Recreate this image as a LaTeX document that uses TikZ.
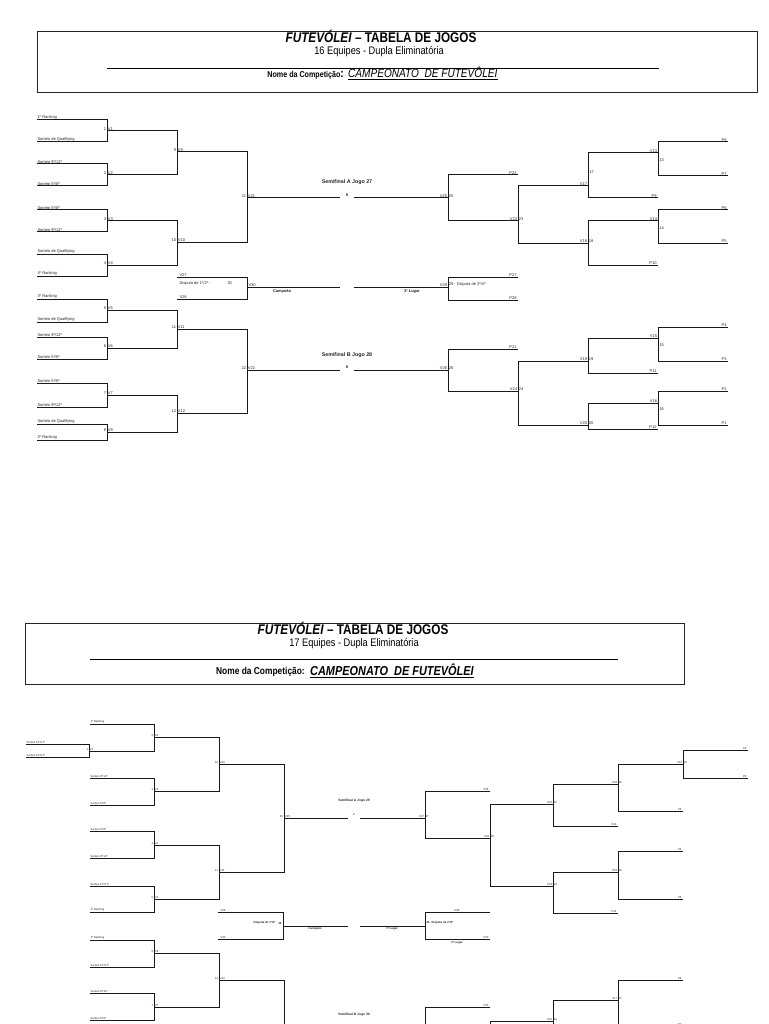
\documentclass[tikz,border=0pt]{standalone}
\usepackage{fontspec}
\setmainfont{Liberation Sans}
\newfontfamily\nar[FakeStretch=0.84]{Liberation Sans}
\newcommand\brkt[4]{\draw[br] (#1,#3) -- (#2,#3) -- (#2,#4) -- (#1,#4);}
\newcommand\teamlab[3]{\node[lb,anchor=south west] at (#1,#2-0.2) {#3};}
\newcommand\numlab[4]{\node[lb,anchor=south east] at (#1-0.4,#2-0.2) {#3};\node[lb,anchor=south west] at (#1+0.4,#2-0.2) {#4};}
\newcommand\plab[3]{\node[lb,anchor=south east] at (#1-1,#2-0.2) {#3};}
\begin{document}
\begin{tikzpicture}[x=1pt,y=-1pt,
  br/.style={line width=1pt,draw=black!90},
  bx/.style={line width=0.9pt,draw=black!85},
  lb/.style={font=\fontsize{4}{4}\selectfont,inner sep=0.3pt,text=black!85},
  lbb/.style={font=\bfseries\fontsize{4}{4}\selectfont,inner sep=0.3pt,text=black!85},
  semi/.style={font=\bfseries\fontsize{5.3}{5.3}\selectfont,inner sep=0.3pt,text=black!85},
  ttl/.style={font=\nar\bfseries\fontsize{14}{14}\selectfont,inner sep=0pt},
  sub/.style={font=\nar\fontsize{11}{11}\selectfont,inner sep=0pt}]
\useasboundingbox (0,0) rectangle (768,1024);
\fill[white] (0,0) rectangle (768,1024);
\clip (0,0) rectangle (768,1024);

% ================= TOP: 16 equipes =================
\draw[bx] (37,31) rectangle (757,92);
\node[ttl,anchor=base] (t1) at (381,43) {\textit{FUTEVÓLEI} – TABELA DE JOGOS};
\node[sub,anchor=base] (s1) at (379,55) {16 Equipes - Dupla Eliminatória};
\draw[line width=0.8pt] (107,68) -- (659,68);
\node[font=\nar\bfseries\fontsize{8.5}{8.5}\selectfont,inner sep=0pt,anchor=base east] (n1) at (344,77.5) {Nome da Competição\fontsize{12}{12}\selectfont:};
\node[font=\nar\itshape\fontsize{12}{12}\selectfont,inner sep=0pt,anchor=base west] (c1) at (348,77.5) {CAMPEONATO\ \ DE FUTEVÔLEI};
\draw[line width=1pt] ([yshift=-2pt]c1.base west) -- ([yshift=-2pt]c1.base east);

% round 1
\brkt{37}{107}{120}{142} \teamlab{37}{120}{1º Ranking} \teamlab{37}{142}{Sorteio de Qualifying} \numlab{107}{131}{1}{V1}
\brkt{37}{107}{164}{186} \teamlab{37}{164}{Sorteio 9º/12º} \teamlab{37}{186}{Sorteio 5º/8º} \numlab{107}{175}{2}{V2}
\brkt{37}{107}{210}{232} \teamlab{37}{210}{Sorteio 5º/8º} \teamlab{37}{232}{Sorteio 9º/12º} \numlab{107}{221}{3}{V3}
\brkt{37}{107}{254}{276} \teamlab{37}{254}{Sorteio de Qualifying} \teamlab{37}{276}{4º Ranking} \numlab{107}{265}{4}{V4}
\brkt{37}{107}{299}{322} \teamlab{37}{299}{3º Ranking} \teamlab{37}{322}{Sorteio de Qualifying} \numlab{107}{310}{5}{V5}
\brkt{37}{107}{337}{359} \teamlab{37}{337}{Sorteio 9º/12º} \teamlab{37}{359}{Sorteio 5º/8º} \numlab{107}{348}{6}{V6}
\brkt{37}{107}{383}{407} \teamlab{37}{383}{Sorteio 5º/8º} \teamlab{37}{407}{Sorteio 9º/12º} \numlab{107}{395}{7}{V7}
\brkt{37}{107}{424}{440} \teamlab{37}{424}{Sorteio de Qualifying} \teamlab{37}{440}{2º Ranking} \numlab{107}{432}{8}{V8}
% round 2
\brkt{107}{177}{131}{175} \numlab{177}{152}{9}{V9}
\brkt{107}{177}{221}{265} \numlab{177}{242}{10}{V10}
\brkt{107}{177}{310}{348} \numlab{177}{329}{11}{V11}
\brkt{107}{177}{395}{432} \numlab{177}{413}{12}{V12}
% round 3
\brkt{177}{247}{152}{242} \numlab{247}{198}{21}{V21}
\brkt{177}{247}{329}{413} \numlab{247}{370}{22}{V22}
% semis
\draw[br] (247,198) -- (340,198); \draw[br] (354,198) -- (448,198);
\draw[br] (247,370) -- (340,370); \draw[br] (354,370) -- (448,370);
\node[lbb] at (347,195) {8};
\node[lbb] at (347,367) {8};
\node[semi] at (347,182) {Semifinal A Jogo 27};
\node[semi] at (347,355) {Semifinal B Jogo 28};
% finals
\brkt{177}{247}{277}{299}
\draw[br] (247,287) -- (340,287); \draw[br] (354,287) -- (448,287);
\brkt{518}{448}{277}{300}
\node[lb,anchor=south west] at (179,276.8) {V27};
\node[lb,anchor=west] at (179,283.5) {Disputa de 1º/2º -};
\node[lb,anchor=west] at (227,283.5) {30};
\node[lb,anchor=south west] at (179,298.8) {V28};
\node[lb,anchor=south west] at (248,286.8) {V30};
\node[lbb,anchor=north] at (282,289) {Campeão};
\node[lbb,anchor=north] at (412,289) {3º Lugar};
\node[lb,anchor=south east] at (447.6,286.8) {V29};
\node[lb,anchor=south west] at (448.4,286.8) {29 - Disputa de 3º/4º};
\plab{518}{277}{P27} \plab{518}{300}{P28}
% right upper
\brkt{518}{448}{175}{221} \numlab{448}{198}{V25}{25} \plab{518}{175}{P22}
\brkt{588}{518}{186}{243} \numlab{518}{221}{V23}{23}
\brkt{658}{588}{153}{198} \plab{658}{198}{P9}
\node[lb,anchor=south east] at (587.6,185.8) {V17}; \node[lb,anchor=west] at (589,172) {17};
\brkt{728}{658}{142}{176} \plab{728}{142}{P8} \plab{728}{176}{P7}
\node[lb,anchor=south east] at (657.6,152.8) {V13}; \node[lb,anchor=west] at (659,160) {13};
\brkt{658}{588}{221}{265} \numlab{588}{243}{V18}{18} \plab{658}{265}{P10}
\brkt{728}{658}{210}{243} \plab{728}{210}{P6} \plab{728}{243}{P5}
\node[lb,anchor=south east] at (657.6,220.8) {V14}; \node[lb,anchor=west] at (659,228) {14};
% right lower
\brkt{518}{448}{349}{391} \numlab{448}{370}{V26}{26} \plab{518}{349}{P21}
\brkt{588}{518}{361}{425} \numlab{518}{391}{V24}{24}
\brkt{658}{588}{338}{373} \numlab{588}{361}{V19}{19} \plab{658}{373}{P11}
\brkt{728}{658}{327}{361} \plab{728}{327}{P4} \plab{728}{361}{P3}
\node[lb,anchor=south east] at (657.6,337.8) {V15}; \node[lb,anchor=west] at (659,345) {15};
\brkt{658}{588}{403}{429} \numlab{588}{425}{V20}{20} \plab{658}{429}{P12}
\brkt{728}{658}{391}{425} \plab{728}{391}{P2} \plab{728}{425}{P1}
\node[lb,anchor=south east] at (657.6,402.8) {V16}; \node[lb,anchor=west] at (659,409) {16};

% ================= BOTTOM: 17 equipes =================
\draw[bx] (25,623) rectangle (684,684);
\node[ttl,anchor=base] (t2) at (353,634) {\textit{FUTEVÓLEI} – TABELA DE JOGOS};
\node[sub,anchor=base] (s2) at (354,646.5) {17 Equipes - Dupla Eliminatória};
\draw[line width=0.8pt] (90,659) -- (618,659);
\node[font=\nar\bfseries\fontsize{10}{10}\selectfont,inner sep=0pt,anchor=base east] (n2) at (305,674.5) {Nome da Competição:};
\node[font=\nar\bfseries\itshape\fontsize{13}{13}\selectfont,inner sep=0pt,anchor=base west] (c2) at (310,675) {CAMPEONATO\ \ DE FUTEVÔLEI};
\draw[line width=1pt] ([yshift=-2pt]c2.base west) -- ([yshift=-2pt]c2.base east);

\begin{scope}[lb/.append style={font=\fontsize{2.8}{2.8}\selectfont},
  lbb/.append style={font=\bfseries\fontsize{2.9}{2.9}\selectfont},
  semi/.append style={font=\bfseries\fontsize{3.3}{3.3}\selectfont}]
\brkt{26}{89}{744}{757} \teamlab{26}{744}{Sorteio 13º/17º} \teamlab{26}{757}{Sorteio 13º/17º} \numlab{89}{751}{1}{V1}
\draw[br] (90,724) -- (154,724) -- (154,751) -- (89,751); \teamlab{90}{724}{1º Ranking} \numlab{154}{737}{2}{V2}
\brkt{90}{154}{778}{805} \teamlab{90}{778}{Sorteio 9º/12º} \teamlab{90}{805}{Sorteio 5º/8º} \numlab{154}{791}{3}{V3}
\brkt{90}{154}{831}{858} \teamlab{90}{831}{Sorteio 5º/8º} \teamlab{90}{858}{Sorteio 9º/12º} \numlab{154}{845}{4}{V4}
\brkt{90}{154}{886}{912} \teamlab{90}{886}{Sorteio 13º/17º} \teamlab{90}{912}{4º Ranking} \numlab{154}{899}{5}{V5}
\brkt{90}{154}{940}{967} \teamlab{90}{940}{3º Ranking} \teamlab{90}{967}{Sorteio 13º/17º} \numlab{154}{953}{6}{V6}
\brkt{90}{154}{993}{1020} \teamlab{90}{993}{Sorteio 9º/12º} \teamlab{90}{1020}{Sorteio 5º/8º} \numlab{154}{1007}{7}{V7}
\brkt{154}{219}{737}{791} \numlab{219}{764}{10}{V10}
\brkt{154}{219}{845}{899} \numlab{219}{872}{11}{V11}
\brkt{154}{219}{953}{1007} \numlab{219}{980}{12}{V12}
\brkt{219}{284}{764}{872} \numlab{284}{818}{25}{V25}
\draw[br] (219,980) -- (284,980) -- (284,1030);
\draw[br] (284,818) -- (348,818); \draw[br] (360,818) -- (425,818);
\node[lb] at (354,815) {8};
\node[semi] at (354,801) {Semifinal A Jogo 29};
\node[semi] at (354,1015) {Semifinal B Jogo 30};
% finals
\brkt{218}{283}{912}{939}
\draw[br] (283,926) -- (348,926); \draw[br] (360,926) -- (425,926);
\brkt{490}{425}{912}{939}
\node[lb,anchor=south west] at (220,911.8) {V29};
\node[lb,anchor=south west] at (220,938.8) {V30};
\node[lbb,anchor=east] at (276,923) {Disputa de 1º/2º};
\node[lbb,anchor=east] at (282,923) {32};
\node[lbb,anchor=north] at (315,927) {Campeão};
\node[lbb,anchor=north] at (392,927) {3º Lugar};
\node[lb,anchor=south] at (457,911.8) {P28};
\plab{490}{939}{P30}
\node[lbb,anchor=north] at (457,940.5) {3º Lugar};
\node[lbb,anchor=west] at (426,923) {31. Disputa de 3º/4º};
% right
\brkt{490}{425}{791}{838} \numlab{425}{818}{V27}{27} \plab{490}{791}{P26}
\brkt{553}{490}{804}{886} \numlab{490}{838}{V26}{26}
\brkt{618}{553}{784}{826} \numlab{553}{804}{V22}{22} \plab{618}{826}{P14}
\brkt{683}{618}{764}{811} \numlab{618}{784}{V18}{18} \plab{683}{811}{P3}
\brkt{748}{683}{750}{778} \numlab{683}{764}{V10}{10} \plab{748}{750}{P9} \plab{748}{778}{P8}
\brkt{618}{553}{872}{913} \numlab{553}{886}{V23}{23} \plab{618}{913}{P13}
\brkt{683}{618}{851}{899} \numlab{618}{872}{V19}{19} \plab{683}{851}{P4} \plab{683}{899}{P5}
\draw[br] (490,1007) -- (425,1007) -- (425,1030); \plab{490}{1007}{P25}
\draw[br] (553,1021) -- (490,1021) -- (490,1030);
\draw[br] (618,1000) -- (553,1000) -- (553,1030); \numlab{553}{1021}{V24}{24}
\draw[br] (683,980) -- (618,980) -- (618,1026) -- (683,1026); \numlab{618}{1000}{V17}{17} \plab{683}{980}{P6} \plab{683}{1026}{P7}
\end{scope}
\end{tikzpicture}
\end{document}
